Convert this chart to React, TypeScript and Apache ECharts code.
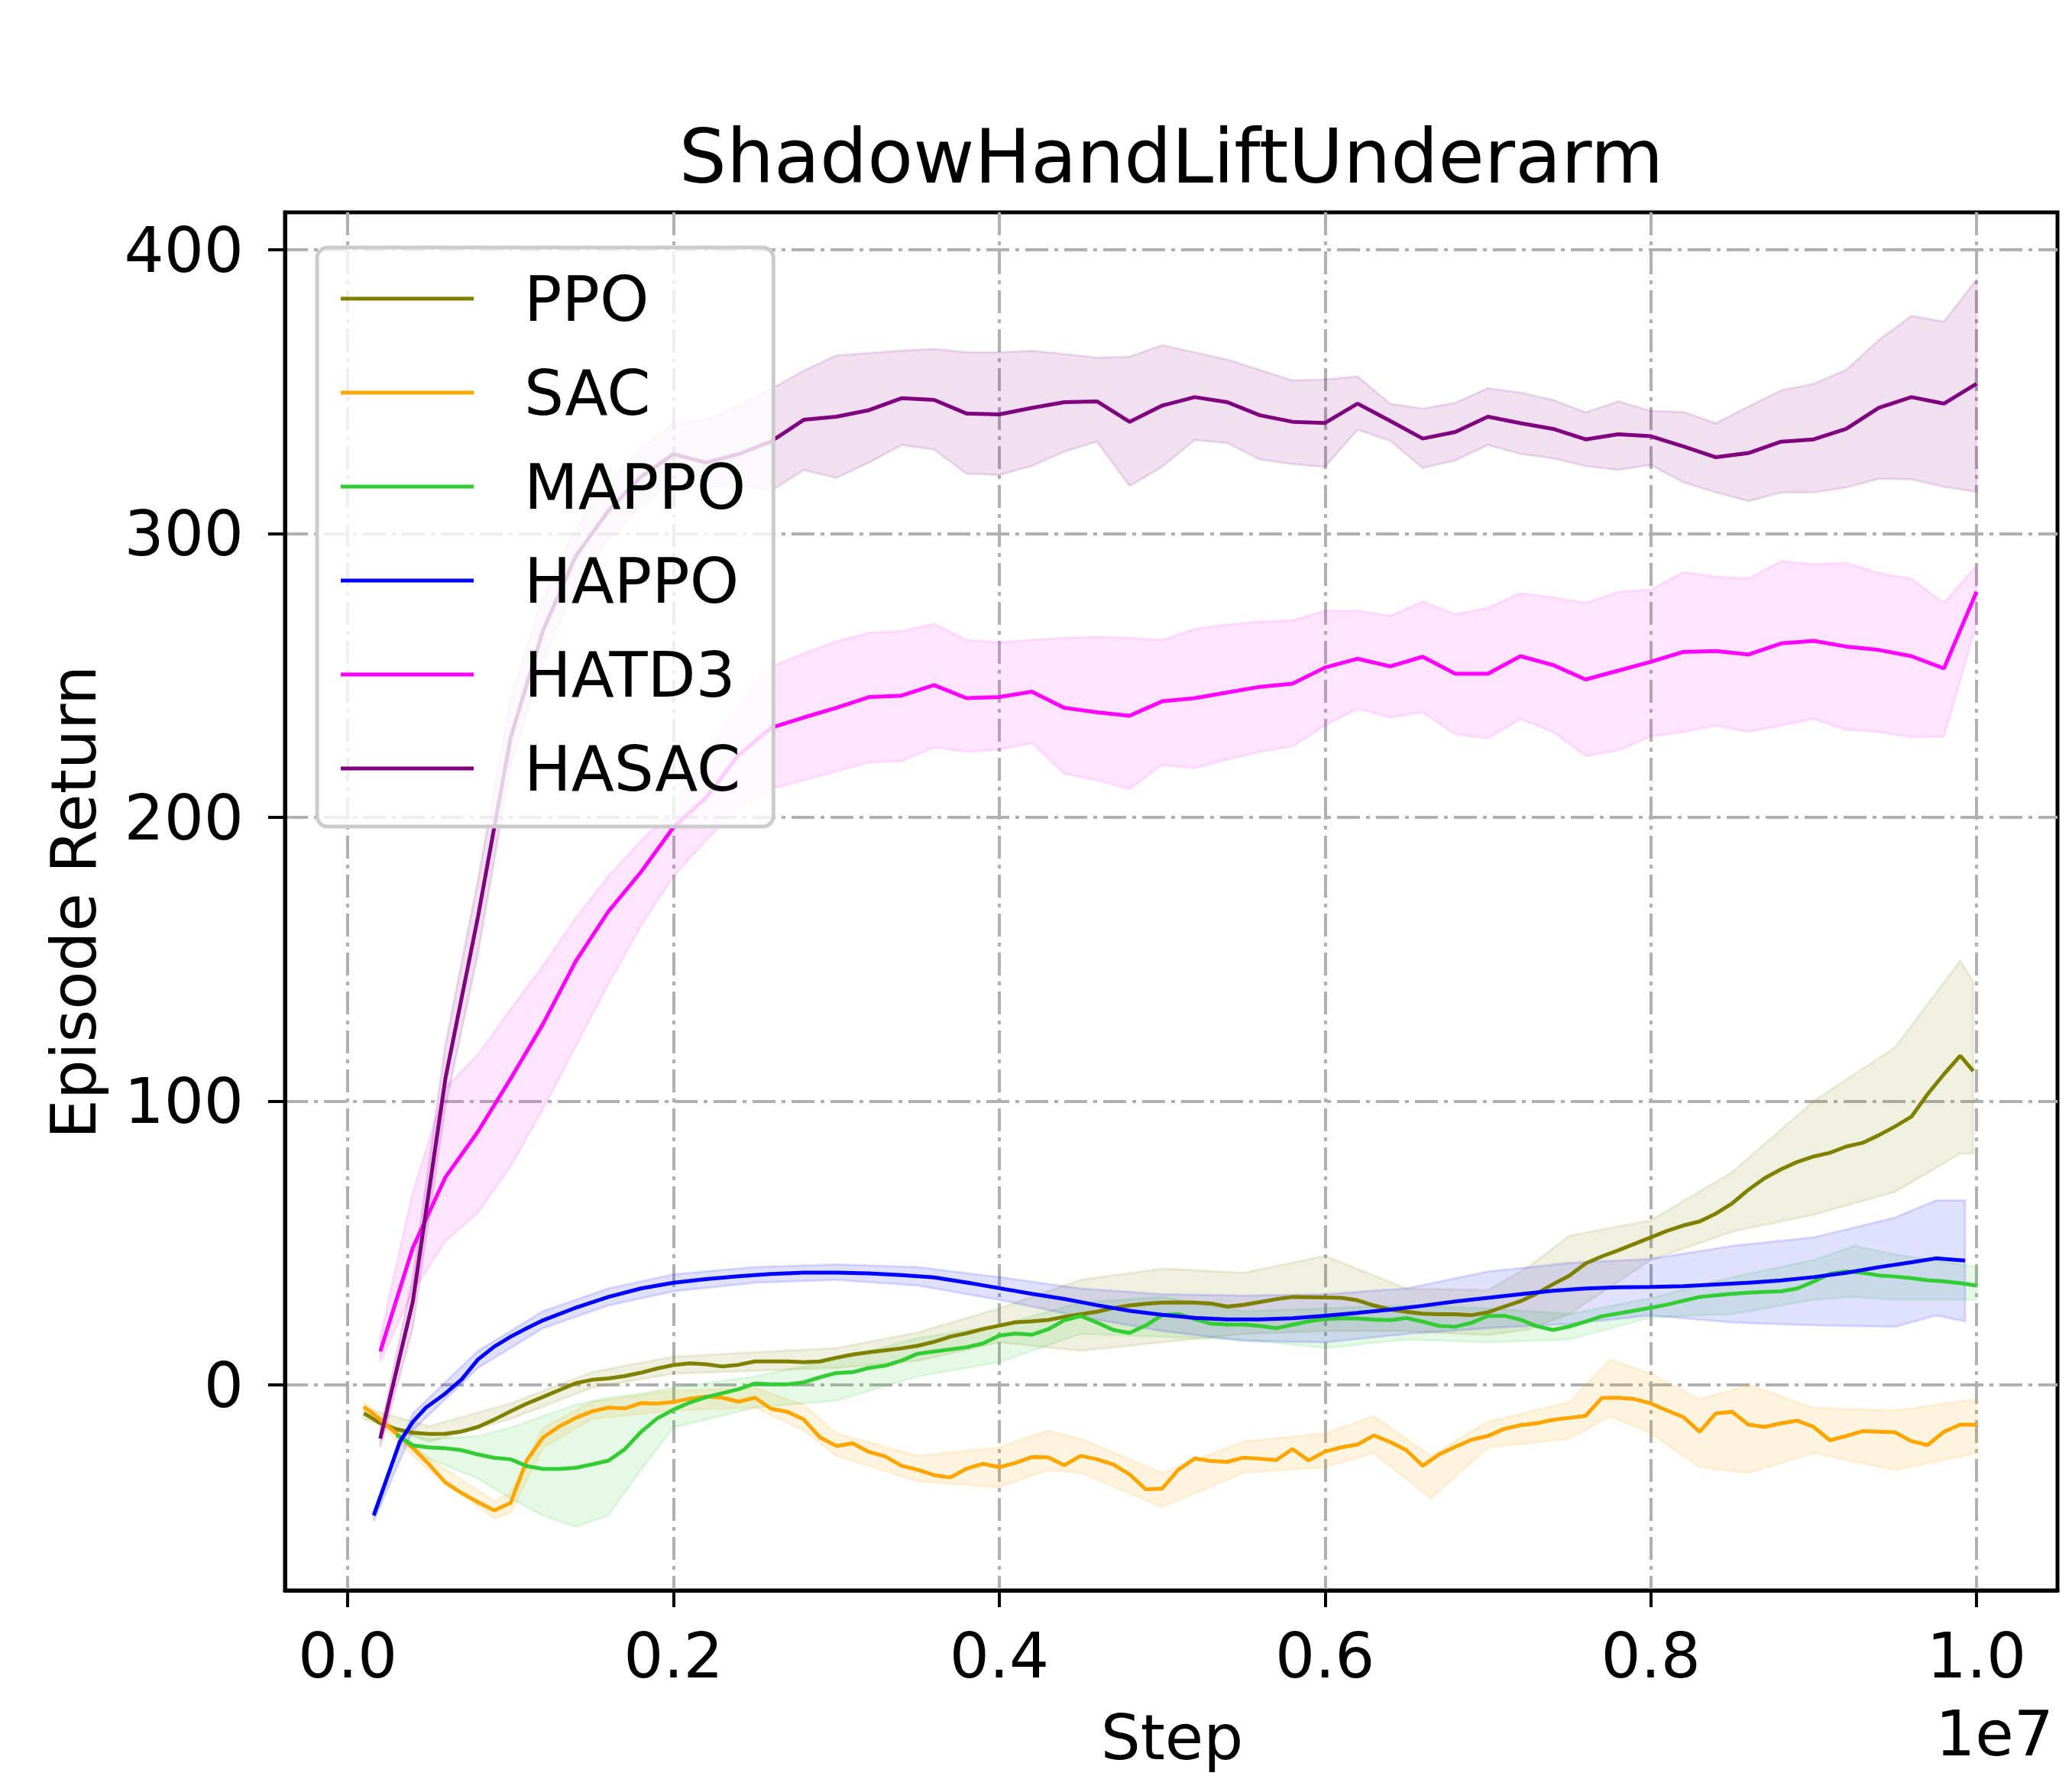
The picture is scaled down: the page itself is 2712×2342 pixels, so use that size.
import React, { useEffect, useRef } from "react";
import * as echarts from "echarts";

const FONT = "DejaVu Sans";

const NAMES = ["PPO", "SAC", "MAPPO", "HAPPO", "HATD3", "HASAC"];
const COLORS = ["#808000", "#ffa500", "#32cd32", "#0000ff", "#ff00ff", "#800080"];
const BAND_FILLS = [
  "rgba(128,128,0,0.12)",
  "rgba(255,165,0,0.12)",
  "rgba(50,205,50,0.12)",
  "rgba(0,0,255,0.12)",
  "rgba(255,0,255,0.10)",
  "rgba(128,0,128,0.12)",
];

const X_TICKS = [0, 0.2, 0.4, 0.6, 0.8, 1.0];
const Y_TICKS = [0, 100, 200, 300, 400];

// ---------- PPO ----------
const PPO_X = [0.01, 0.02, 0.03, 0.04, 0.05, 0.06, 0.07, 0.08, 0.09, 0.1, 0.11, 0.12, 0.13, 0.14, 0.15, 0.16, 0.17, 0.18, 0.19, 0.2, 0.21, 0.22, 0.23, 0.24, 0.25, 0.26, 0.27, 0.28, 0.29, 0.3, 0.31, 0.32, 0.33, 0.34, 0.35, 0.36, 0.37, 0.38, 0.39, 0.4, 0.41, 0.42, 0.43, 0.44, 0.45, 0.46, 0.47, 0.48, 0.49, 0.5, 0.51, 0.52, 0.53, 0.54, 0.55, 0.56, 0.57, 0.58, 0.59, 0.6, 0.61, 0.62, 0.63, 0.64, 0.65, 0.66, 0.67, 0.68, 0.69, 0.7, 0.71, 0.72, 0.73, 0.74, 0.75, 0.76, 0.77, 0.78, 0.79, 0.8, 0.81, 0.82, 0.83, 0.84, 0.85, 0.86, 0.87, 0.88, 0.89, 0.9, 0.91, 0.92, 0.93, 0.94, 0.95, 0.96, 0.97, 0.98, 0.99, 0.998];
const PPO_Y = [-10, -13.5, -15.6, -16.8, -17.3, -17.2, -16.4, -14.8, -12.2, -9.3, -6.6, -4.2, -1.8, 0.6, 1.8, 2.3, 3.1, 4.3, 5.8, 7.0, 7.6, 7.3, 6.5, 7.1, 8.3, 8.3, 8.3, 8.0, 8.3, 9.6, 10.7, 11.5, 12.2, 12.9, 13.8, 15.2, 17.0, 18.2, 19.7, 20.9, 22.1, 22.4, 22.9, 24.0, 24.9, 25.8, 27.1, 28.0, 28.6, 29.0, 29.1, 29.0, 28.7, 27.6, 28.2, 29.2, 30.2, 31.0, 30.9, 30.8, 30.7, 29.8, 28.0, 26.6, 25.8, 25.1, 24.9, 24.9, 24.6, 25.6, 27.6, 29.5, 32.2, 35.5, 38.5, 42.8, 45.3, 47.4, 49.7, 52.0, 54.3, 56.2, 57.6, 60.4, 64.0, 68.8, 72.9, 76.0, 78.6, 80.5, 81.8, 84.0, 85.3, 88.0, 91.1, 94.5, 102.5, 109.5, 116.0, 110.6];
const PPO_BAND_X = [0.01, 0.05, 0.1, 0.15, 0.2, 0.25, 0.3, 0.35, 0.4, 0.45, 0.5, 0.55, 0.6, 0.65, 0.7, 0.725, 0.75, 0.8, 0.85, 0.9, 0.95, 0.99, 0.998];
const PPO_LO = [-12, -20, -12, -1, 4, 5, 6, 8.5, 15, 12, 15, 18, 19, 19, 17.6, 19.6, 25, 44, 54, 60, 68, 81.5, 81.5];
const PPO_HI = [-8, -14.5, -6.5, 4.5, 10, 11.5, 13, 18.5, 27, 37, 41, 39.5, 45.5, 34, 33.4, 41.6, 52.6, 58, 75, 100, 119, 149.5, 142];

// ---------- SAC ----------
const SAC_X = [0.01, 0.02, 0.03, 0.04, 0.05, 0.06, 0.07, 0.08, 0.09, 0.1, 0.11, 0.12, 0.13, 0.14, 0.15, 0.16, 0.17, 0.18, 0.19, 0.2, 0.21, 0.22, 0.23, 0.24, 0.25, 0.26, 0.27, 0.28, 0.29, 0.3, 0.31, 0.32, 0.33, 0.34, 0.35, 0.36, 0.37, 0.38, 0.39, 0.4, 0.41, 0.42, 0.43, 0.44, 0.45, 0.46, 0.47, 0.48, 0.49, 0.5, 0.51, 0.52, 0.53, 0.54, 0.55, 0.56, 0.57, 0.58, 0.59, 0.6, 0.61, 0.62, 0.63, 0.64, 0.65, 0.66, 0.67, 0.68, 0.69, 0.7, 0.71, 0.72, 0.73, 0.74, 0.75, 0.76, 0.77, 0.78, 0.79, 0.8, 0.81, 0.82, 0.83, 0.84, 0.85, 0.86, 0.87, 0.88, 0.89, 0.9, 0.91, 0.92, 0.93, 0.94, 0.95, 0.96, 0.97, 0.98, 0.99, 1.0];
const SAC_Y = [-7.7, -12.2, -17.2, -22.2, -28.0, -34.4, -38.1, -41.3, -44.2, -41.6, -26.5, -18.5, -14.6, -11.6, -9.3, -8.0, -8.3, -6.4, -6.6, -6.0, -4.8, -4.1, -4.5, -5.9, -4.5, -8.4, -9.5, -12.2, -18.5, -21.5, -20.6, -23.6, -25.2, -28.5, -29.9, -31.8, -32.6, -29.5, -27.8, -29.0, -27.5, -25.4, -25.5, -28.3, -25.0, -26.2, -28.0, -31.5, -36.8, -36.5, -29.9, -25.9, -26.8, -27.1, -25.6, -26.0, -26.5, -22.6, -26.6, -23.5, -22.0, -21.0, -17.8, -20.1, -23.0, -28.5, -24.5, -21.8, -19.3, -18.0, -15.5, -14.2, -13.5, -12.3, -11.6, -10.9, -4.6, -4.5, -5.0, -6.5, -9.0, -11.3, -16.5, -10.0, -9.5, -14.0, -14.8, -13.5, -12.6, -14.8, -19.5, -18.0, -16.3, -16.5, -16.7, -19.8, -21.2, -16.5, -14.0, -14.0];
const SAC_BAND_X = [0.01, 0.05, 0.09, 0.1, 0.12, 0.15, 0.2, 0.25, 0.28, 0.3, 0.35, 0.4, 0.43, 0.45, 0.5, 0.55, 0.6, 0.63, 0.665, 0.7, 0.75, 0.775, 0.8, 0.83, 0.86, 0.9, 0.95, 1.0];
const SAC_LO = [-9, -30, -47, -45, -22, -12, -9, -8, -16, -25, -34, -36, -30, -31, -43, -31, -29, -24, -40, -22, -19, -11, -17, -29, -31, -24, -30, -24];
const SAC_HI = [-6, -26, -41, -38, -15, -6, -2, -1, -7, -17, -25, -22, -16, -19, -31, -20, -17, -11, -25, -13, -6, 9, 4, -5, 0, -8, -9, -5];

// ---------- MAPPO ----------
const MAPPO_X = [0.03, 0.04, 0.05, 0.06, 0.07, 0.08, 0.09, 0.1, 0.11, 0.12, 0.13, 0.14, 0.15, 0.16, 0.17, 0.18, 0.19, 0.2, 0.21, 0.22, 0.23, 0.24, 0.25, 0.26, 0.27, 0.28, 0.29, 0.3, 0.31, 0.32, 0.33, 0.34, 0.35, 0.36, 0.37, 0.38, 0.39, 0.4, 0.41, 0.42, 0.43, 0.44, 0.45, 0.46, 0.47, 0.48, 0.49, 0.5, 0.51, 0.52, 0.53, 0.54, 0.55, 0.56, 0.57, 0.58, 0.59, 0.6, 0.61, 0.62, 0.63, 0.64, 0.65, 0.66, 0.67, 0.68, 0.69, 0.7, 0.71, 0.72, 0.73, 0.74, 0.75, 0.76, 0.77, 0.78, 0.79, 0.8, 0.81, 0.82, 0.83, 0.84, 0.85, 0.86, 0.87, 0.88, 0.89, 0.9, 0.91, 0.92, 0.93, 0.94, 0.95, 0.96, 0.97, 0.98, 0.99, 1.0];
const MAPPO_Y = [-17.5, -21.3, -22.0, -22.3, -23.0, -24.5, -25.7, -26.2, -28.6, -29.6, -29.6, -29.2, -28.0, -26.7, -22.7, -16.6, -11.8, -8.7, -6.2, -4.3, -2.9, -1.5, 0.5, 0.2, 0.2, 0.9, 2.7, 4.2, 4.5, 6.0, 6.8, 8.6, 11.0, 11.8, 12.5, 13.3, 14.6, 17.4, 18.1, 17.7, 19.6, 22.8, 24.3, 22.0, 19.4, 18.3, 21.0, 24.6, 25.0, 23.2, 21.6, 21.3, 21.3, 20.8, 20.0, 21.2, 22.4, 23.2, 23.5, 23.4, 23.0, 22.8, 23.6, 22.3, 20.8, 20.5, 21.9, 24.3, 24.4, 23.0, 20.7, 19.4, 20.6, 22.3, 24.2, 25.2, 26.2, 27.2, 28.3, 29.7, 31.0, 31.6, 32.1, 32.5, 32.8, 33.0, 34.0, 36.4, 39.2, 40.0, 39.5, 38.6, 38.2, 37.6, 36.9, 36.5, 35.9, 35.0];
const MAPPO_BAND_X = [0.03, 0.05, 0.08, 0.1, 0.12, 0.14, 0.16, 0.18, 0.2, 0.25, 0.3, 0.35, 0.4, 0.45, 0.5, 0.55, 0.6, 0.65, 0.7, 0.75, 0.8, 0.85, 0.9, 0.925, 0.95, 1.0];
const MAPPO_LO = [-19, -26, -33, -40, -46, -50, -46, -30, -15, -8, -5.5, 3, 8, 18, 17, 16, 13, 16, 15, 16, 23.8, 25, 30, 31, 30, 30];
const MAPPO_HI = [-16, -19, -18, -15, -11, -7, -4.5, -3, -1, 3, 9, 16.5, 21, 29, 31, 26, 27, 28, 27, 25, 30.6, 38, 44, 49, 46, 41.6];

// ---------- HAPPO ----------
const HAPPO_X = [0.016, 0.024, 0.032, 0.04, 0.048, 0.06, 0.07, 0.08, 0.09, 0.1, 0.11, 0.12, 0.14, 0.16, 0.18, 0.2, 0.22, 0.24, 0.26, 0.28, 0.3, 0.32, 0.34, 0.36, 0.38, 0.4, 0.42, 0.44, 0.46, 0.48, 0.5, 0.52, 0.54, 0.56, 0.58, 0.6, 0.62, 0.64, 0.66, 0.68, 0.7, 0.72, 0.74, 0.76, 0.78, 0.8, 0.82, 0.84, 0.86, 0.88, 0.9, 0.92, 0.94, 0.96, 0.975, 0.993];
const HAPPO_Y = [-46, -33, -20, -13, -8, -3, 2, 9, 13.5, 17, 20, 22.8, 27.2, 31, 34, 36, 37.3, 38.3, 39.1, 39.6, 39.6, 39.3, 38.7, 37.9, 36.1, 34.1, 32.1, 30.3, 28.1, 26.1, 24.7, 23.6, 23.1, 23.1, 23.5, 24.4, 25.4, 26.5, 27.9, 29.4, 30.7, 32.0, 33.2, 34.0, 34.4, 34.5, 34.8, 35.4, 36.0, 36.8, 38.0, 39.5, 41.5, 43.2, 44.6, 43.8];
const HAPPO_BAND_X = [0.016, 0.04, 0.08, 0.12, 0.16, 0.2, 0.25, 0.3, 0.35, 0.4, 0.45, 0.5, 0.55, 0.6, 0.65, 0.7, 0.75, 0.8, 0.85, 0.9, 0.95, 0.975, 0.993];
const HAPPO_LO = [-48, -16, 6, 20, 28, 33, 36, 37, 35, 30, 24, 19, 15.5, 15, 18, 20, 21.5, 24.5, 22, 21, 20.5, 24.5, 22.4];
const HAPPO_HI = [-44, -10, 12, 26, 34, 39, 41.5, 42.5, 41.5, 38, 34, 32, 31.5, 32, 34, 40, 43, 44.4, 49, 52, 59, 65, 65];

// ---------- HATD3 / HASAC (every 0.02) ----------
const STEPS_002 = [0.02, 0.04, 0.06, 0.08, 0.1, 0.12, 0.14, 0.16, 0.18, 0.2, 0.22, 0.24, 0.26, 0.28, 0.3, 0.32, 0.34, 0.36, 0.38, 0.4, 0.42, 0.44, 0.46, 0.48, 0.5, 0.52, 0.54, 0.56, 0.58, 0.6, 0.62, 0.64, 0.66, 0.68, 0.7, 0.72, 0.74, 0.76, 0.78, 0.8, 0.82, 0.84, 0.86, 0.88, 0.9, 0.92, 0.94, 0.96, 0.98, 1.0];
const HATD3_Y = [11.8, 48.4, 73.2, 89.3, 107.9, 127.3, 149.3, 166.8, 180.7, 196.5, 207, 222, 231.6, 235.2, 238.6, 242.4, 242.9, 246.6, 242.0, 242.4, 244.3, 238.6, 237.0, 235.8, 240.9, 242.0, 244.0, 246.0, 247.1, 252.8, 255.9, 253.2, 256.6, 250.6, 250.6, 256.8, 253.7, 248.6, 251.7, 254.8, 258.3, 258.6, 257.4, 261.3, 262.2, 260.2, 259.0, 256.8, 252.5, 279.5];
const HATD3_LO = [8, 33, 50.6, 60.8, 76.9, 97.4, 119.3, 141.2, 161.7, 179.2, 192, 203, 210, 213.1, 216.2, 219.3, 219.8, 224.7, 223.1, 223.9, 226.2, 215.4, 213.1, 210.0, 218.5, 217.3, 220.4, 223.1, 225.0, 232.4, 238.3, 235.2, 237.0, 229.3, 227.8, 234.7, 230.1, 221.6, 223.6, 228.5, 230.1, 232.4, 230.1, 232.4, 234.7, 230.9, 230.1, 228.2, 228.5, 268];
const HATD3_HI = [17, 68, 104.7, 116.4, 132.5, 147.8, 164.6, 179.2, 191.7, 202.6, 222, 240, 253, 257.9, 262.0, 265.1, 265.6, 268.2, 262.5, 261.7, 262.5, 263.3, 263.6, 263.3, 262.5, 266.4, 267.9, 269.0, 269.4, 272.8, 272.8, 271.0, 276.1, 271.6, 273.8, 279.0, 277.5, 275.6, 279.5, 280.2, 286.4, 284.9, 284.1, 290.3, 289.2, 289.8, 286.1, 284.1, 275.6, 288.7];

const HASAC_Y = [-18.9, 29.4, 108, 165, 228, 266, 292, 308, 320, 328, 325, 328, 332.5, 340.1, 341.2, 343.5, 347.7, 347.1, 342.3, 342.0, 344.3, 346.3, 346.6, 339.4, 345.1, 348.1, 346.3, 341.7, 339.4, 339.0, 345.8, 339.7, 333.5, 335.8, 341.2, 338.9, 336.9, 333.2, 335.0, 334.3, 330.7, 326.9, 328.4, 332.4, 333.2, 336.9, 344.3, 348.1, 345.8, 352.8];
const HASAC_LO = [-22, 20, 98, 152, 218, 255, 282, 298, 310, 318, 316, 317, 315, 322.4, 319.6, 325, 331.2, 329.6, 321.1, 320.7, 323.8, 328.9, 332.4, 316.8, 323.5, 333.0, 331.9, 326.1, 324.5, 323.5, 336.6, 332.7, 323.1, 325.8, 331.2, 328.1, 326.5, 323.8, 322.4, 324.2, 318.1, 314.5, 311.4, 314.5, 314.5, 316.2, 319.3, 319.1, 316.5, 314.7];
const HASAC_HI = [-16, 38, 120, 178, 242, 278, 302, 318, 330, 339, 340, 345, 351, 357.4, 362.8, 363.6, 364.5, 365.1, 363.9, 363.9, 364.4, 363.3, 362.0, 362.3, 366.4, 363.9, 361.3, 357.7, 354.0, 354.3, 355.4, 345.8, 344.0, 346.1, 351.2, 349.7, 347.1, 342.7, 346.6, 343.2, 342.9, 338.9, 344.8, 350.5, 352.8, 357.7, 368.2, 376.7, 374.7, 389.5];

const LINES = [
  { x: PPO_X, y: PPO_Y },
  { x: SAC_X, y: SAC_Y },
  { x: MAPPO_X, y: MAPPO_Y },
  { x: HAPPO_X, y: HAPPO_Y },
  { x: STEPS_002, y: HATD3_Y },
  { x: STEPS_002, y: HASAC_Y },
];
const BANDS = [
  { x: PPO_BAND_X, lo: PPO_LO, hi: PPO_HI },
  { x: SAC_BAND_X, lo: SAC_LO, hi: SAC_HI },
  { x: MAPPO_BAND_X, lo: MAPPO_LO, hi: MAPPO_HI },
  { x: HAPPO_BAND_X, lo: HAPPO_LO, hi: HAPPO_HI },
  { x: STEPS_002, lo: HATD3_LO, hi: HATD3_HI },
  { x: STEPS_002, lo: HASAC_LO, hi: HASAC_HI },
];

function bandRenderer(xs: number[], lo: number[], hi: number[], fill: string) {
  return (params: any, api: any) => {
    if (params.dataIndex !== 0) return null;
    const pts: number[][] = [];
    for (let i = 0; i < xs.length; i++) pts.push(api.coord([xs[i], hi[i]]));
    for (let i = xs.length - 1; i >= 0; i--) pts.push(api.coord([xs[i], lo[i]]));
    return {
      type: "polygon",
      shape: { points: pts },
      style: { fill, stroke: fill, lineWidth: 3 },
    };
  };
}

export default function App() {
  const ref = useRef<HTMLDivElement>(null);
  useEffect(() => {
    document.body.style.margin = "0";
    if (!ref.current) return;
    const chart = echarts.init(ref.current, null, { renderer: "svg" });
    const series: any[] = [];
    NAMES.forEach((name, k) => {
      const b = BANDS[k];
      series.push({
        type: "custom",
        name: name + " band",
        silent: true,
        clip: true,
        data: b.x.map((x, i) => [x, b.lo[i], b.hi[i]]),
        encode: { x: 0, y: [1, 2] },
        renderItem: bandRenderer(b.x, b.lo, b.hi, BAND_FILLS[k]),
      });
      const l = LINES[k];
      series.push({
        type: "line",
        name,
        data: l.x.map((x, i) => [x, l.y[i]]),
        symbol: "none",
        showSymbol: false,
        clip: true,
        lineStyle: { color: COLORS[k], width: 5 },
        itemStyle: { color: COLORS[k] },
        emphasis: { disabled: true },
      });
    });
    const labelStyle = { fontFamily: FONT, fontSize: 82, color: "#000" };
    const gridLine = { show: true, lineStyle: { color: "#b0b0b0", width: 4, type: [30, 8, 5, 8] } };
    chart.setOption({
      animation: false,
      backgroundColor: "#ffffff",
      grid: {
        left: 373,
        top: 278,
        width: 2320,
        height: 1804,
        show: true,
        borderColor: "#000",
        borderWidth: 5,
        backgroundColor: "transparent",
        containLabel: false,
      },
      xAxis: {
        type: "value",
        min: -0.0385,
        max: 1.0497,
        axisLine: { show: true, onZero: false, lineStyle: { color: "#000", width: 5 } },
        axisTick: { show: true, customValues: X_TICKS, length: 22, lineStyle: { color: "#000", width: 4 } },
        axisLabel: {
          ...labelStyle,
          customValues: X_TICKS,
          margin: 85,
          verticalAlign: "middle",
          formatter: (v: number) => v.toFixed(1),
        },
        splitLine: gridLine,
      },
      yAxis: {
        type: "value",
        min: -72.4,
        max: 413.2,
        axisLine: { show: true, onZero: false, lineStyle: { color: "#000", width: 5 } },
        axisTick: { show: true, customValues: Y_TICKS, length: 22, lineStyle: { color: "#000", width: 4 } },
        axisLabel: { ...labelStyle, customValues: Y_TICKS, margin: 54, formatter: (v: number) => String(v) },
        splitLine: gridLine,
      },
      legend: {
        orient: "vertical",
        left: 415,
        top: 324,
        data: NAMES,
        icon: "rect",
        itemWidth: 174,
        itemHeight: 5,
        itemGap: 33,
        padding: [22, 36, 31, 31],
        backgroundColor: "rgba(255,255,255,0.8)",
        borderColor: "#cccccc",
        borderWidth: 5,
        borderRadius: 14,
        selectedMode: false,
        textStyle: { fontFamily: FONT, fontSize: 82, color: "#000", lineHeight: 90, padding: [0, 0, 0, 61] },
      },
      graphic: [
        {
          type: "text",
          x: 1533,
          y: 205,
          style: { text: "ShadowHandLiftUnderarm", fontFamily: FONT, fontSize: 98, fill: "#000", align: "center", verticalAlign: "middle" },
        },
        {
          type: "text",
          x: 1534,
          y: 2274,
          style: { text: "Step", fontFamily: FONT, fontSize: 82, fill: "#000", align: "center", verticalAlign: "middle" },
        },
        {
          type: "text",
          x: 96,
          y: 1181,
          rotation: Math.PI / 2,
          style: { text: "Episode Return", fontFamily: FONT, fontSize: 82, fill: "#000", align: "center", verticalAlign: "middle" },
        },
        {
          type: "text",
          x: 2688,
          y: 2269,
          style: { text: "1e7", fontFamily: FONT, fontSize: 82, fill: "#000", align: "right", verticalAlign: "middle" },
        },
      ],
      series,
    });
    return () => chart.dispose();
  }, []);
  return <div ref={ref} style={{ width: 2712, height: 2342 }} />;
}
